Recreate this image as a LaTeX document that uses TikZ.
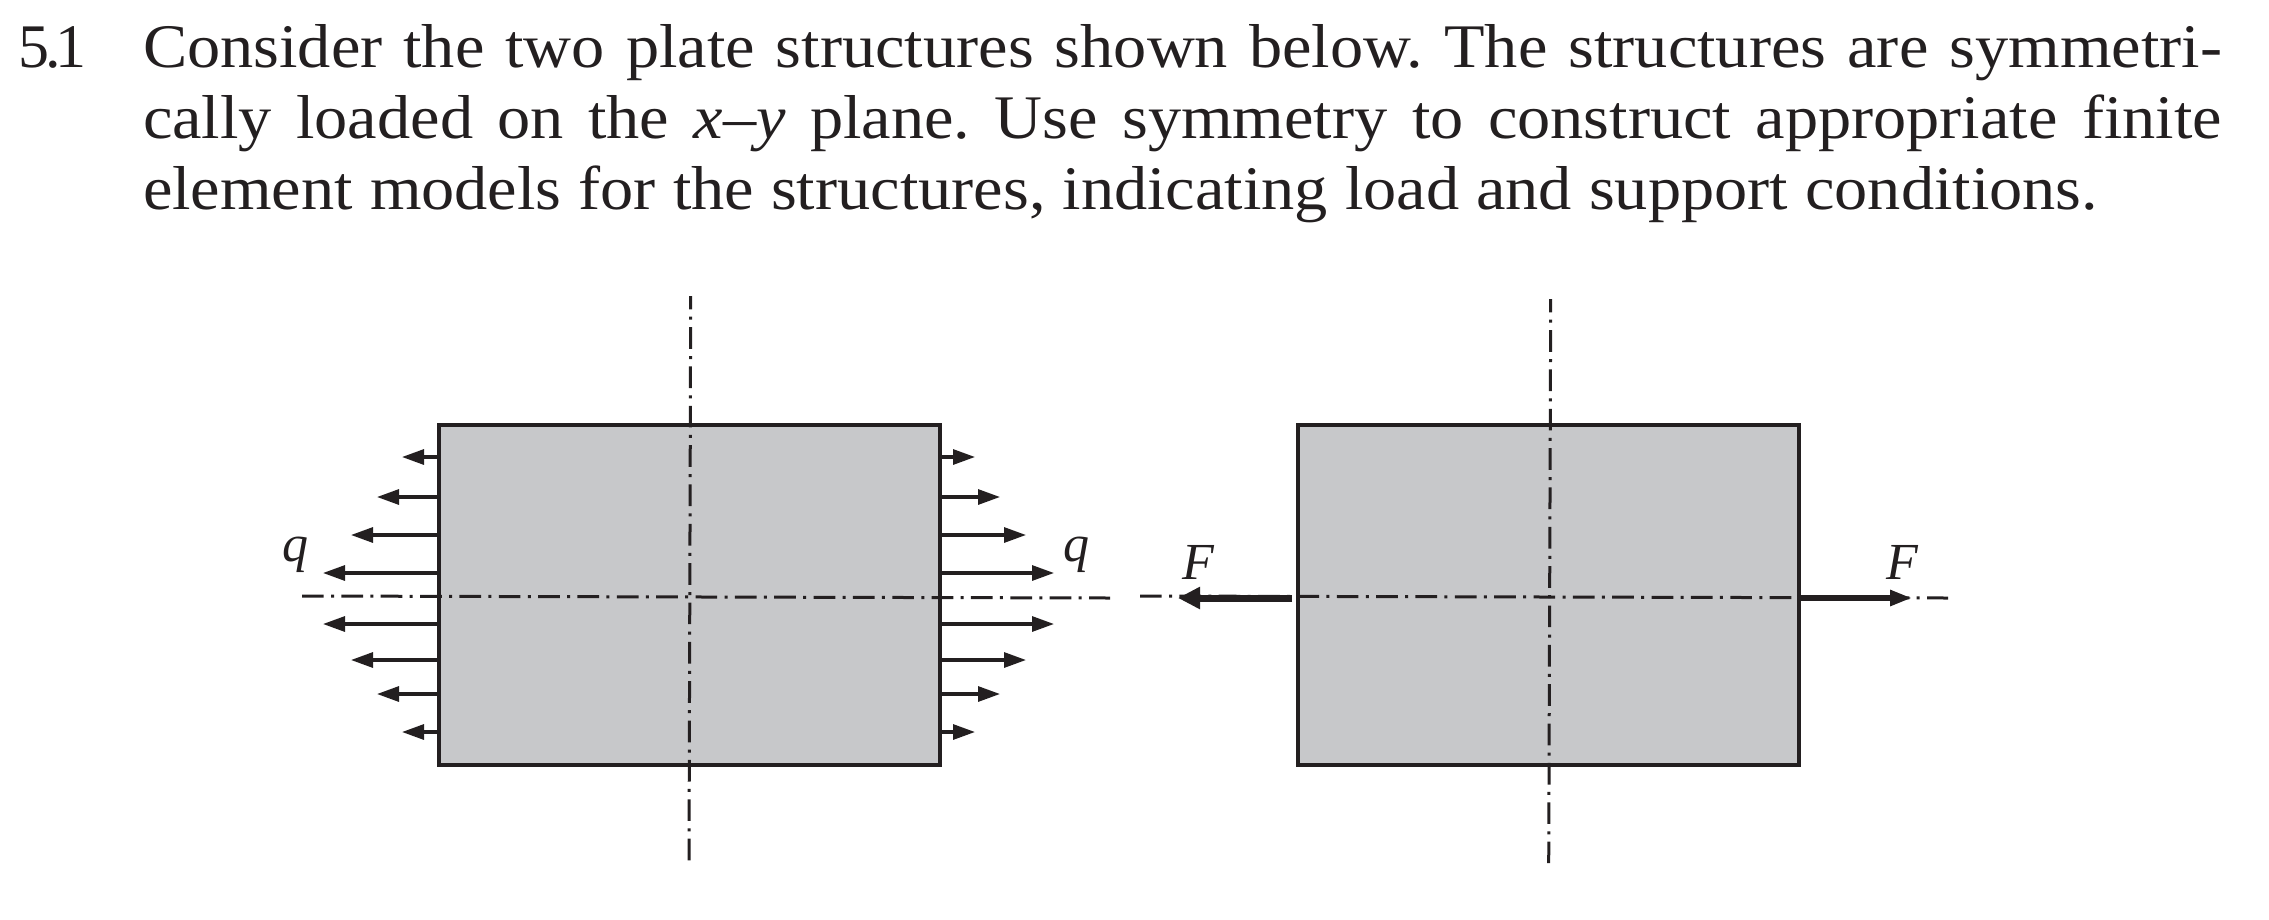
\documentclass[tikz,border=0pt]{standalone}
\usepackage{fontspec}
\setmainfont[FakeStretch=1.07]{Liberation Serif}
\newfontfamily\plainserif{Liberation Serif}
\usetikzlibrary{arrows.meta}
\definecolor{ink}{HTML}{231F20}
\definecolor{plategray}{HTML}{C7C8CA}
\tikzset{
  plate/.style={draw=ink,fill=plategray,line width=4pt,minimum width=501pt,minimum height=340pt,inner sep=0pt,outer sep=0pt,anchor=north west},
  axis/.style={draw=ink,line width=3pt,dash pattern=on 21.7pt off 7.3pt on 3pt off 7.35pt},
  load/.style={draw=ink,line width=3.1pt,-{Triangle[length=22pt,width=15pt]}},
  txt/.style={anchor=base west,inner sep=0pt,outer sep=0pt,text=ink,font=\fontsize{62}{71}\selectfont\frenchspacing},
  sym/.style={anchor=base,inner sep=0pt,outer sep=0pt,text=ink,font=\fontsize{52}{52}\plainserif\itshape}
}
\begin{document}
\begin{tikzpicture}[x=1pt,y=-1pt]
\useasboundingbox (0,0) rectangle (2269,919);
\node[txt] (num) at (18,67) {\plainserif 5\kern-4pt.\kern-5pt 1};
\node[txt] (l1) at (143,67) {\makebox[2079pt][s]{Consider the two plate structures shown below. The structures are symmetri-}};
\node[txt] (l2) at (143,138) {\makebox[2079pt][s]{cally loaded on the \textit{x}–\textit{y} plane. Use symmetry to construct appropriate finite}};
\node[txt] (l3) at (143,209) {\makebox[1955pt][s]{element models for the structures, indicating load and support conditions.}};
\node[plate] (pa) at (439,425) {};
\node[plate] (pb) at (1298,425) {};
% axes
\coordinate (a1) at (302,596); \coordinate (a2) at (1110,598);
\coordinate (a3) at (690.7,296); \coordinate (a4) at (689,861);
\coordinate (b1) at (1140,596); \coordinate (b2) at (1948,598);
\coordinate (b3) at (1550.7,299); \coordinate (b4) at (1548.7,863);
\draw[axis] (a1) -- (a2);
\draw[axis,dash phase=8.3pt] (a3) -- (a4);
\draw[axis] (b1) -- (b2);
\draw[axis,dash phase=8.3pt] (b3) -- (b4);
% distributed load
\foreach \y/\l in {457/35,497/60,535/86,573/114,624/114,660/86,694/60,732/35}{
  \coordinate (s) at (437,\y); \coordinate (t) at (437-\l,\y);
  \draw[load] (s) -- (t);
  \coordinate (s) at (941,\y); \coordinate (t) at (940+\l,\y);
  \draw[load] (s) -- (t);
}
\node[sym] (qa) at (295,561) {q};
\node[sym] (qb) at (1076,561) {q};
% point forces
\coordinate (fa) at (1292,598); \coordinate (fat) at (1178,598);
\coordinate (fb) at (1801,598); \coordinate (fbt) at (1912,598);
\draw[draw=ink,line width=7pt,-{Triangle[length=22pt,width=21pt]}] (fa) -- (fat);
\draw[draw=ink,line width=6pt,-{Triangle[length=22pt,width=15pt]}] (fb) -- (fbt);
\node[sym] (fla) at (1198,579) {F};
\node[sym] (flb) at (1902,579) {F};
\end{tikzpicture}
\end{document}
